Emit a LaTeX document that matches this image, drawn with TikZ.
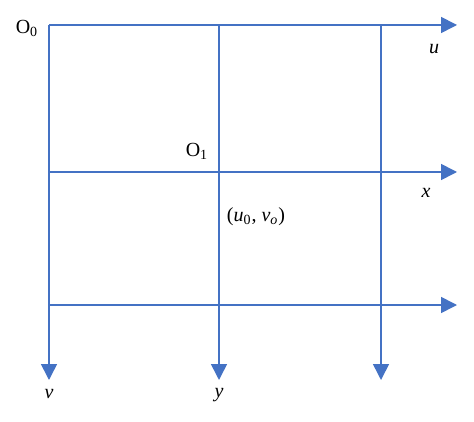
\documentclass[tikz,border=0pt]{standalone}
\usepackage{fontspec}
\setmainfont{Liberation Serif}
\usepackage{tikz}
\usetikzlibrary{arrows.meta,positioning}

\definecolor{axisblue}{RGB}{68,114,196}

\begin{document}
\begin{tikzpicture}[x=0.5pt,y=-0.5pt,
                    axis/.style={draw=axisblue,line width=0.8pt,
                      -{Triangle[length=8pt,width=8pt,fill=axisblue]}},
                    lbl/.style={inner sep=0pt,font=\fontsize{10}{12}\selectfont}]

      \useasboundingbox (0,0) rectangle (474,421);

      % grid points
      \coordinate (O0) at (49,25);
      \coordinate (T1) at (219,25);
      \coordinate (T2) at (381,25);
      \coordinate (L1) at (49,172);
      \coordinate (L2) at (49,305);
      % arrow ends
      \coordinate (uend) at (457,25);
      \coordinate (xend) at (457,172);
      \coordinate (wend) at (457,305);
      \coordinate (vend) at (49,380);
      \coordinate (yend) at (219,380);
      \coordinate (zend) at (381,380);

      \draw[axis] (O0) -- (uend);
      \draw[axis] (L1) -- (xend);
      \draw[axis] (L2) -- (wend);
      \draw[axis] (O0) -- (vend);
      \draw[axis] (T1) -- (yend);
      \draw[axis] (T2) -- (zend);

      % labels
      \node[lbl] (o0) at (27,28) {O\textsubscript{0}};
      \node[lbl] (u) at (434,49) {\textit{u}};
      \node[lbl] (o1) at (197,151) {O\textsubscript{1}};
      \node[lbl] (x) at (426,193) {\textit{x}};
      \node[lbl] (uv) at (256,217) {(\textit{u}\textsubscript{0}, \textit{v}\textsubscript{\textit{o}})};
      \node[lbl] (v) at (49,394) {\textit{v}};
      \node[lbl] (y) at (219,395) {\textit{y}};
    \end{tikzpicture}
\end{document}
